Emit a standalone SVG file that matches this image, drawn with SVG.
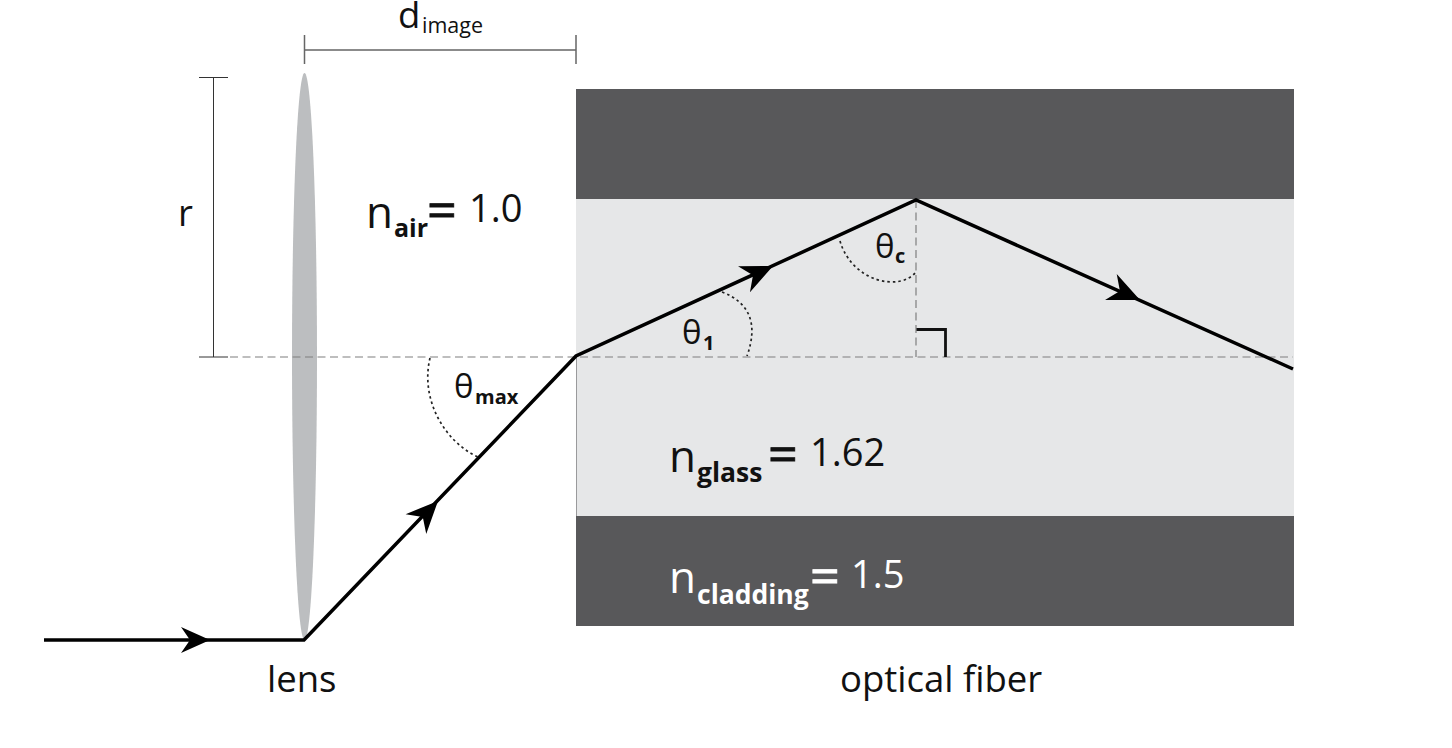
<svg xmlns="http://www.w3.org/2000/svg" width="1452" height="748" viewBox="0 0 1452 748">
<style>
text{font-family:"Open Sans","Noto Sans","Liberation Sans",sans-serif;fill:#111}
.n{font-size:44px}.e{font-size:52px;stroke:#111;stroke-width:.9}.d{font-size:38px}.t{font-size:33px}.s{font-size:26.500px;font-weight:700}.g{font-size:21.500px}.v{font-size:36.500px}
.sm{font-size:20px;font-weight:700}
.ray{fill:none;stroke:#000;stroke-width:3.500}
.dash{fill:none;stroke:#7f7f7f;stroke-width:1.200;stroke-dasharray:8 4.500}
.dot{fill:none;stroke:#222;stroke-width:1.700;stroke-dasharray:2.500 3}
.dim{fill:none;stroke:#666;stroke-width:1.500}
text.w{fill:#fff}
text.e.w{stroke:#fff}
</style>
<defs><path id="head" d="M0 0L-29 -13L-20 0L-29 13Z" fill="#000"/></defs>
<rect width="1452" height="748" fill="#fff"/>
<g id="fiber">
<rect x="576" y="199" width="718" height="317" fill="#e6e7e8"/>
<rect x="576" y="89" width="718" height="110" fill="#58585a"/>
<rect x="576" y="516" width="718" height="110" fill="#58585a"/>
<line x1="576.500" y1="356" x2="576.500" y2="516" stroke="#9a9a9c" stroke-width="1"/>
</g>
<g id="lens"><ellipse cx="304.500" cy="356.500" rx="12.500" ry="283.500" fill="#bcbec0"/></g>
<g id="connectors">
<path class="dash" d="M230 357H1293"/>
<path class="dash" d="M916 200V357"/>
<path class="dim" d="M304.500 35V64M304.500 50H576M576 35V64"/>
<path d="M199 77.500H228M213.500 77.500V357M199 357H228" fill="none" stroke="#333" stroke-width="1"/>
<path class="dot" d="M722 292Q764 308 747 356"/>
<path class="dot" d="M840 241C852 282 900 292 916 272"/>
<path class="dot" d="M430 358C420 400 445 442 478 457"/>
<path d="M916.500 329.500H945.500V357" fill="none" stroke="#111" stroke-width="2.800"/>
<path class="ray" d="M44 640H304L576 356L916 200L1293 369"/>
<use href="#head" transform="translate(210 640)"/>
<use href="#head" transform="translate(438 501) rotate(-46.200) scale(1.100)"/>
<use href="#head" transform="translate(773 266) rotate(-24.600) scale(1.100)"/>
<use href="#head" transform="translate(1140 300) rotate(24.100) scale(1.100)"/>
</g>
<g id="labels">
<text class="v" x="398" y="28">d</text><text class="g" x="422" y="33">image</text>
<text class="v" x="178" y="226">r</text>
<text class="n" x="366" y="228">n</text><text class="s" x="394" y="237" style="font-size:25px">air</text><text class="e" x="427" y="228">=</text><text class="d" x="469" y="222">1.0</text>
<text class="t" x="682" y="344">θ</text><text class="sm" x="703" y="350">1</text>
<text class="t" x="875" y="258">θ</text><text class="sm" x="895" y="263">c</text>
<text class="t" x="454" y="398">θ</text><text class="sm" x="475" y="404">max</text>
<text class="n" x="669" y="472">n</text><text class="s" x="697" y="482">glass</text><text class="e" x="768" y="472">=</text><text class="d" x="810" y="466">1.62</text>
<text class="n w" x="669" y="593">n</text><text class="s w" x="697" y="604">cladding</text><text class="e w" x="810" y="594">=</text><text class="d w" x="851" y="588">1.5</text>
<text class="v" x="267" y="692">lens</text>
<text class="v" x="840" y="692">optical fiber</text>
</g>
</svg>
